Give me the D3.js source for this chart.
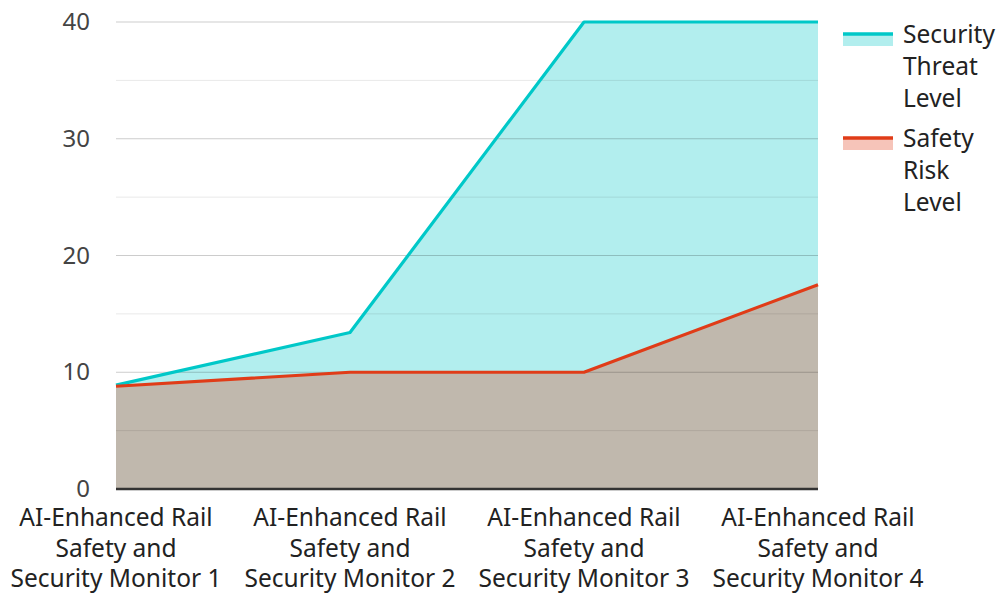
<!DOCTYPE html>
<html>
<head>
<meta charset="utf-8">
<script src="https://cdn.jsdelivr.net/npm/d3@7"></script>
<style>
  html, body { margin: 0; padding: 0; background: #fff; }
  svg { display: block; font-family: "Noto Sans", "Open Sans", sans-serif; }
</style>
</head>
<body>
<svg id="chart" width="999" height="594"></svg>
<script>
// Monitors along the x axis, each label split into display lines
const categories = [
  "AI-Enhanced Rail Safety and Security Monitor 1",
  "AI-Enhanced Rail Safety and Security Monitor 2",
  "AI-Enhanced Rail Safety and Security Monitor 3",
  "AI-Enhanced Rail Safety and Security Monitor 4"
];
const categoryLines = [
  ["AI-Enhanced Rail", "Safety and", "Security Monitor 1"],
  ["AI-Enhanced Rail", "Safety and", "Security Monitor 2"],
  ["AI-Enhanced Rail", "Safety and", "Security Monitor 3"],
  ["AI-Enhanced Rail", "Safety and", "Security Monitor 4"]
];
const securityThreat = [8.9, 13.4, 40, 40];
const safetyRisk = [8.8, 10, 10, 17.5];
const yTicks = [0, 10, 20, 30, 40];
const yMinorTicks = [5, 15, 25, 35];

const series = [
  { name: ["Security", "Threat", "Level"], values: securityThreat, color: "#00c8c8" },
  { name: ["Safety", "Risk", "Level"], values: safetyRisk, color: "#e03c18" }
];

const svg = d3.select("#chart");
const plot = { left: 116, right: 818, top: 22, bottom: 489 };

const x = d3.scalePoint().domain(categories).range([plot.left, plot.right]);
const y = d3.scaleLinear().domain([0, 40]).range([plot.bottom, plot.top]);

// Areas first, grid lines drawn over them
const area = d3.area()
  .x((d, i) => x(categories[i]))
  .y0(y(0))
  .y1(d => y(d));
const line = d3.line()
  .x((d, i) => x(categories[i]))
  .y(d => y(d));

const areas = svg.append("g");
series.forEach(s => {
  areas.append("path")
    .attr("d", area(s.values))
    .attr("fill", s.color)
    .attr("fill-opacity", 0.3);
});

// Grid lines
const grid = svg.append("g");
grid.selectAll("line.minor").data(yMinorTicks).join("line")
  .attr("class", "minor")
  .attr("x1", plot.left).attr("x2", plot.right)
  .attr("y1", d => y(d)).attr("y2", d => y(d))
  .attr("stroke", "#000").attr("stroke-opacity", 0.09).attr("stroke-width", 1);
grid.selectAll("line.major").data(yTicks.filter(t => t > 0)).join("line")
  .attr("class", "major")
  .attr("x1", plot.left).attr("x2", plot.right)
  .attr("y1", d => y(d)).attr("y2", d => y(d))
  .attr("stroke", "#000").attr("stroke-opacity", 0.2).attr("stroke-width", 1.2);

// Lines
series.forEach(s => {
  svg.append("path")
    .attr("d", line(s.values))
    .attr("fill", "none")
    .attr("stroke", s.color)
    .attr("stroke-width", 3.2)
    .attr("stroke-linejoin", "round");
});

// Y axis labels
const yAxis = d3.axisLeft(y).tickValues(yTicks).tickSize(0).tickPadding(26);
const yg = svg.append("g").attr("transform", `translate(${plot.left},0)`).call(yAxis);
yg.select(".domain").remove();
yg.selectAll("text")
  .attr("font-size", 24)
  .attr("font-family", "'Noto Sans', 'Open Sans', sans-serif")
  .attr("fill", "#444");

// X axis baseline
svg.append("line")
  .attr("x1", plot.left).attr("x2", plot.right)
  .attr("y1", y(0)).attr("y2", y(0))
  .attr("stroke", "#333").attr("stroke-width", 2.5);

// Category labels
const xl = svg.append("g");
categories.forEach((c, i) => {
  const t = xl.append("text")
    .attr("x", x(c))
    .attr("y", 526)
    .attr("text-anchor", "middle")
    .attr("font-size", 24.5)
    .attr("fill", "#222");
  categoryLines[i].forEach((ln, j) => {
    t.append("tspan").attr("x", x(c)).attr("dy", j === 0 ? 0 : 30.5).text(ln);
  });
});

// Legend
const legend = svg.append("g");
const legendY = [34, 138];
series.forEach((s, i) => {
  const ly = legendY[i];
  legend.append("rect")
    .attr("x", 843).attr("y", ly).attr("width", 50).attr("height", 12)
    .attr("fill", s.color).attr("fill-opacity", 0.3);
  legend.append("line")
    .attr("x1", 843).attr("x2", 893).attr("y1", ly).attr("y2", ly)
    .attr("stroke", s.color).attr("stroke-width", 3.5);
  const t = legend.append("text")
    .attr("x", 903).attr("y", ly + 9)
    .attr("font-size", 24.5)
    .attr("fill", "#222");
  s.name.forEach((n, j) => {
    t.append("tspan").attr("x", 903).attr("dy", j === 0 ? 0 : 32).text(n);
  });
});
</script>
</body>
</html>
